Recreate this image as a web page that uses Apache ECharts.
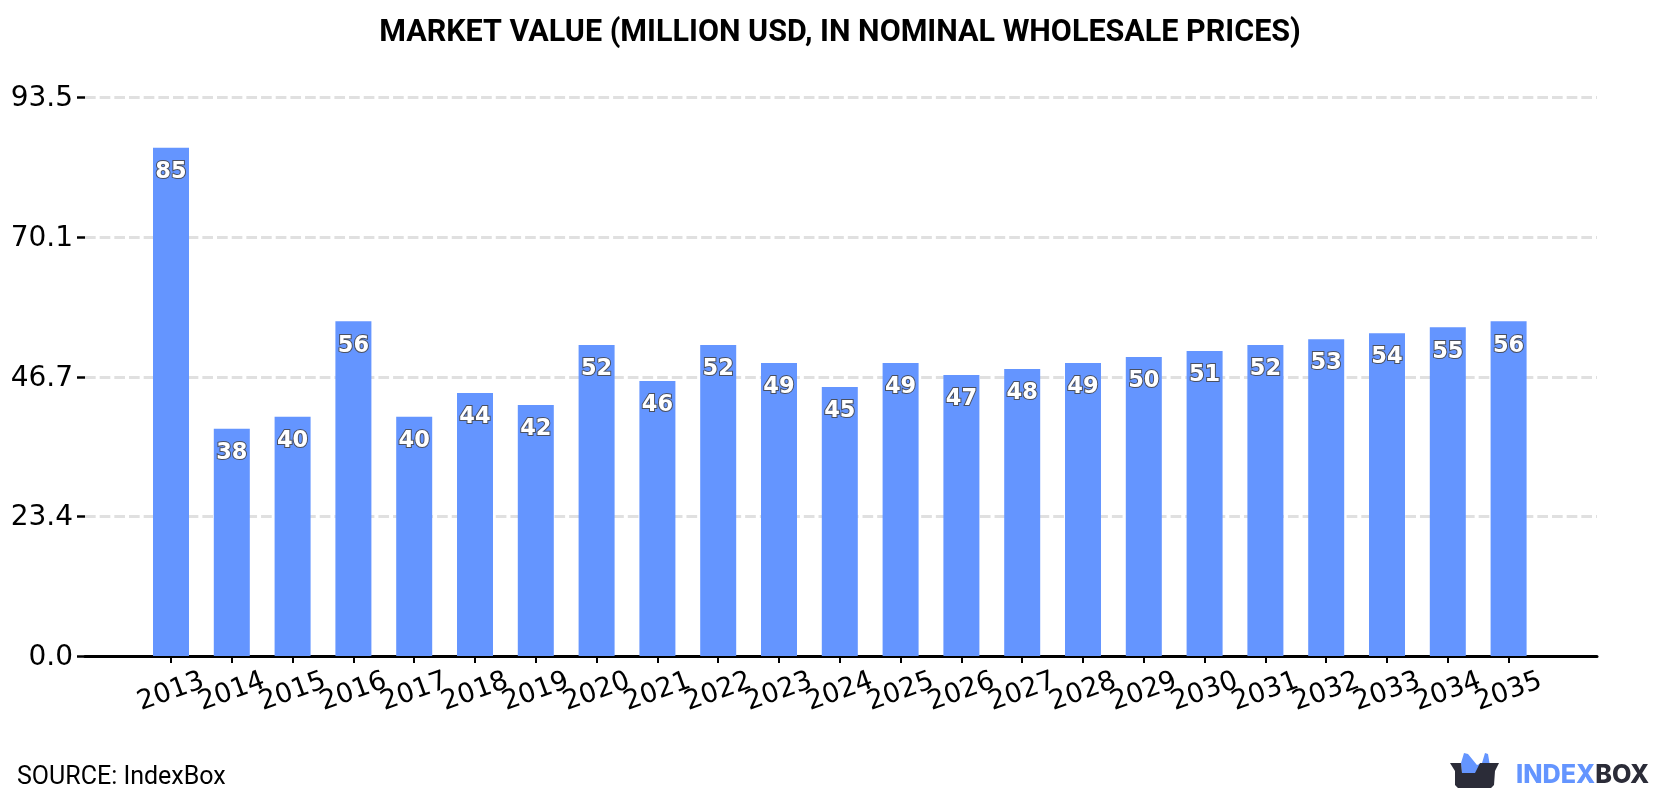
<!DOCTYPE html>
<html>
<head>
<meta charset="utf-8">
<script src="https://cdn.jsdelivr.net/npm/echarts@6/dist/echarts.min.js"></script>
<style>
  html, body { margin: 0; padding: 0; background: #fff; }
  #chart { width: 1680px; height: 800px; }
</style>
</head>
<body>
<div id="chart"></div>
<script>
const titleText = 'MARKET VALUE (MILLION USD, IN NOMINAL WHOLESALE PRICES)';
const sourceText = 'SOURCE: IndexBox';
const years = ['2013', '2014', '2015', '2016', '2017', '2018', '2019', '2020', '2021', '2022', '2023', '2024',
  '2025', '2026', '2027', '2028', '2029', '2030', '2031', '2032', '2033', '2034', '2035'];
const marketValue = [85, 38, 40, 56, 40, 44, 42, 52, 46, 52, 49, 45,
  49, 47, 48, 49, 50, 51, 52, 53, 54, 55, 56];
const valueTicks = [0, 23.4, 46.7, 70.1, 93.5];

const chart = echarts.init(document.getElementById('chart'), null, { renderer: 'canvas' });

chart.setOption({
  animation: false,
  backgroundColor: '#ffffff',
  title: {
    text: titleText,
    left: 'center',
    top: 13,
    textStyle: { fontFamily: 'Roboto', fontWeight: 'bold', fontSize: 30.5, color: '#000' }
  },
  // The outer grid carries the value scale and the long baseline;
  // the inner one holds the year bands, inset from both ends of the baseline.
  grid: [
    { left: 85, right: 83, top: 97, bottom: 144 },
    { left: 140.6, width: 1398.4, top: 97, bottom: 144 }
  ],
  xAxis: [
    {
      type: 'value',
      gridIndex: 0,
      min: 0,
      max: 1,
      splitLine: { show: false },
      axisTick: { show: false },
      axisLabel: { show: false },
      axisLine: { show: true, onZero: false, lineStyle: { color: '#000', width: 3 } }
    },
    {
      type: 'category',
      gridIndex: 1,
      data: years,
      axisLine: { show: false },
      axisTick: { show: true, alignWithLabel: true, length: 7, lineStyle: { color: '#000', width: 2 } },
      axisLabel: {
        show: true,
        interval: 0,
        rotate: 20,
        margin: 36,
        align: 'center',
        verticalAlign: 'middle',
        hideOverlap: false,
        fontFamily: 'DejaVu Sans',
        fontSize: 27,
        color: '#000'
      }
    }
  ],
  yAxis: [
    {
      type: 'value',
      gridIndex: 0,
      min: 0,
      max: 93.5,
      axisLine: { show: false },
      axisTick: { show: true, length: 8, customValues: valueTicks, lineStyle: { color: '#000', width: 2.5 } },
      axisLabel: {
        show: true,
        customValues: valueTicks,
        margin: 12,
        fontFamily: 'DejaVu Sans',
        fontSize: 28,
        color: '#000',
        formatter: (v) => '{t|' + v.toFixed(1) + '}',
        rich: {
          t: { fontFamily: 'DejaVu Sans', fontSize: 28, color: '#000', padding: [4, 0, 0, 0] }
        }
      },
      splitLine: {
        show: true,
        customValues: valueTicks,
        lineStyle: { color: '#e0e0e0', width: 3, type: [10.67, 4] }
      }
    },
    {
      type: 'value',
      gridIndex: 1,
      min: 0,
      max: 93.5,
      show: false,
      splitLine: { show: false }
    }
  ],
  series: [{
    type: 'bar',
    xAxisIndex: 1,
    yAxisIndex: 1,
    data: marketValue,
    barWidth: 36,
    itemStyle: { color: '#6495ff' },
    label: {
      show: true,
      position: 'insideTop',
      distance: 13,
      fontFamily: 'DejaVu Sans',
      fontWeight: 'bold',
      fontSize: 22.5,
      color: '#ffffff',
      textBorderColor: '#4a5060',
      textBorderWidth: 2
    }
  }],
  graphic: [
    {
      type: 'text', left: 17, top: 765,
      style: { text: sourceText, fontFamily: 'Roboto', fontSize: 25, fill: '#000' }
    },
    {
      // logo: open box with a blue crown rising out of it
      type: 'group', left: 1450, top: 753,
      children: [
        { type: 'polygon', shape: { points: [[11, 10], [14, 0], [18, 1], [27, 12], [32, 10], [35, 0], [38, 1], [40, 13], [35, 22], [12, 22]] },
          style: { fill: '#6495ff' } },
        { type: 'polygon', shape: { points: [[0, 10], [11, 10], [12, 20], [25, 20], [30, 10], [49, 10], [45, 18], [44, 32], [41, 35], [8, 35], [5, 32], [5, 18]] },
          style: { fill: '#2b2c38' } }
      ]
    },
    {
      type: 'text', left: 1516, top: 763,
      style: {
        text: '{a|INDEX}{b|BOX}',
        rich: {
          a: { fontFamily: 'Inter', fontWeight: 800, fontSize: 25.2, fill: '#6495ff', color: '#6495ff' },
          b: { fontFamily: 'Inter', fontWeight: 800, fontSize: 25.2, fill: '#2b2c38', color: '#2b2c38' }
        }
      }
    }
  ]
});
</script>
</body>
</html>
